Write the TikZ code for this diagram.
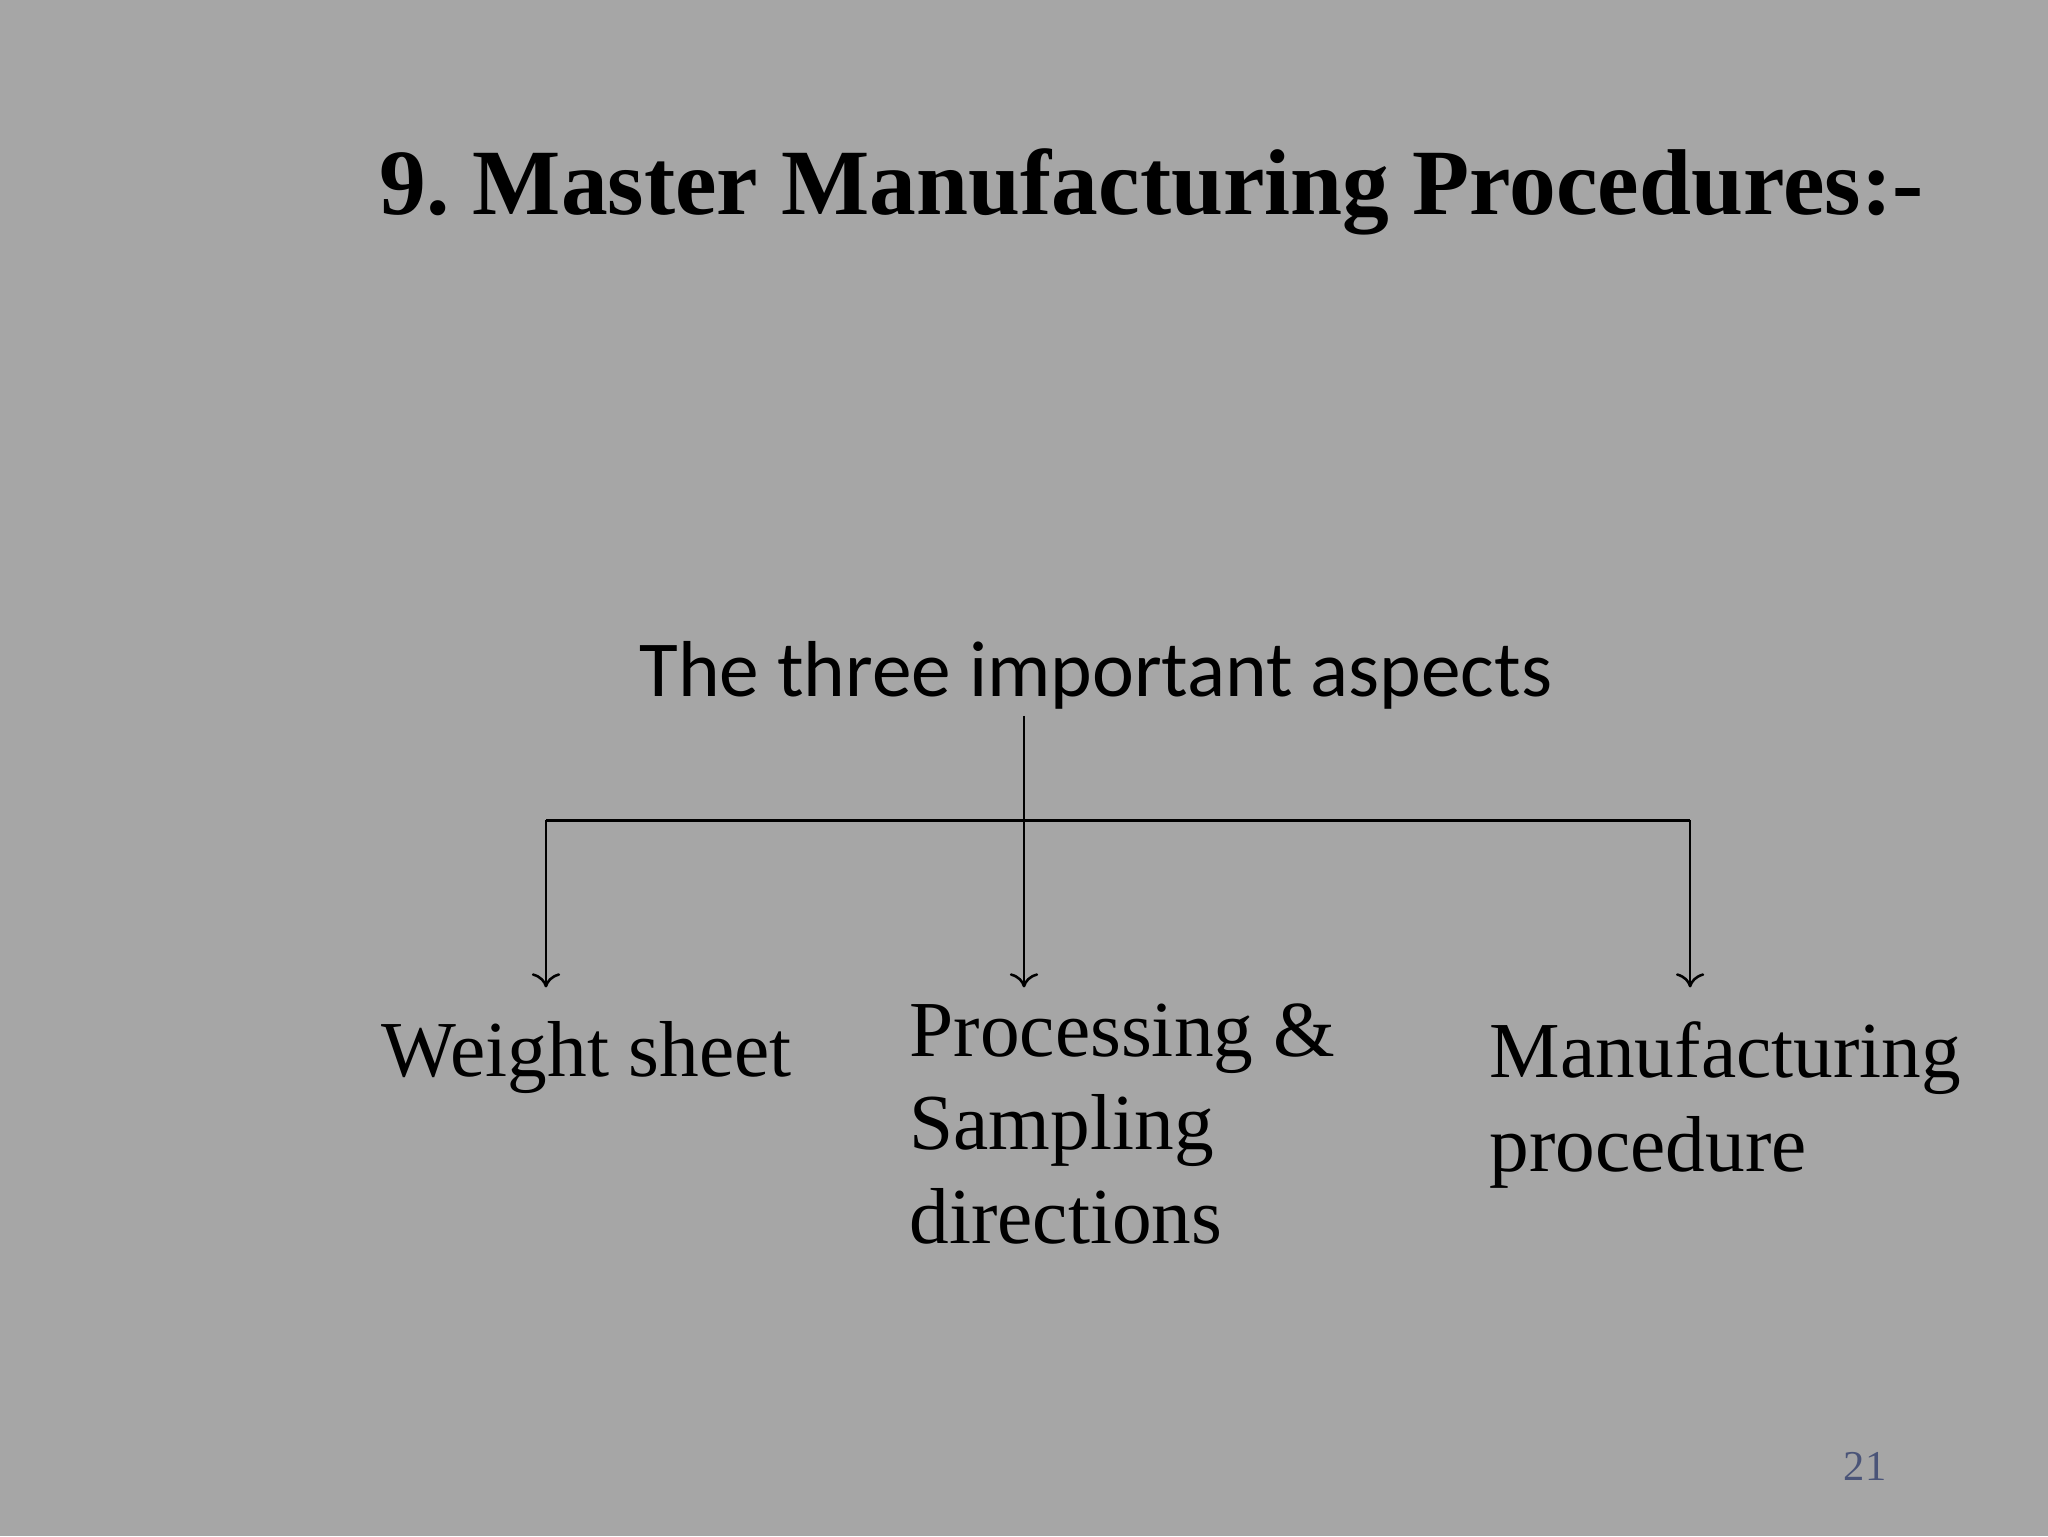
\documentclass[tikz,border=0pt]{standalone}
\usepackage{fontspec}
\setmainfont{Liberation Serif}
\newfontfamily\calib{Carlito}
\usetikzlibrary{positioning,arrows.meta}
\definecolor{slidegray}{HTML}{A6A6A6}
\definecolor{numblue}{HTML}{4A5478}
\tikzset{label/.style={font=\fontsize{28}{33}\selectfont,align=left,inner sep=0pt},
         conn/.style={line width=0.9pt,-{To[length=5pt,width=10pt]}}}
\begin{document}
\frenchspacing
\begin{tikzpicture}[x=0.0162cm,y=-0.0162cm]
    \fill[slidegray] (0,0) rectangle (1568,1176);
    \useasboundingbox (0,0) rectangle (1568,1176);

    \node[anchor=west,inner sep=0pt,font=\fontsize{33}{36}\selectfont\bfseries] (title) at (290,147) {9. Master Manufacturing Procedures:-};
    \node[inner sep=0pt,font=\calib\fontsize{28}{32}\selectfont] (root) at (839,517) {The three important aspects};

    \node[label,anchor=west] (weight) at (292,810) {Weight sheet};
    \node[label,anchor=north west] (proc) at (696,768) {Processing \&\\Sampling\\directions};
    \node[label,anchor=north west] (manu) at (1140,782) {Manufacturing\\procedure};
    \node[inner sep=0pt,text=numblue,font=\fontsize{15}{16}\selectfont] (page) at (1428,1123) {21};

    % connectors
    \coordinate (top) at (784,548);
    \coordinate (left) at (418,628);
    \coordinate (right) at (1294,628);
    \coordinate (tipL) at (418,756);
    \coordinate (tipM) at (784,756);
    \coordinate (tipR) at (1294,756);
    \draw[conn] (top) -- (tipM);
    \draw[line width=0.9pt] (left) -- (right);
    \draw[conn] (left) -- (tipL);
    \draw[conn] (right) -- (tipR);
\end{tikzpicture}
\end{document}
